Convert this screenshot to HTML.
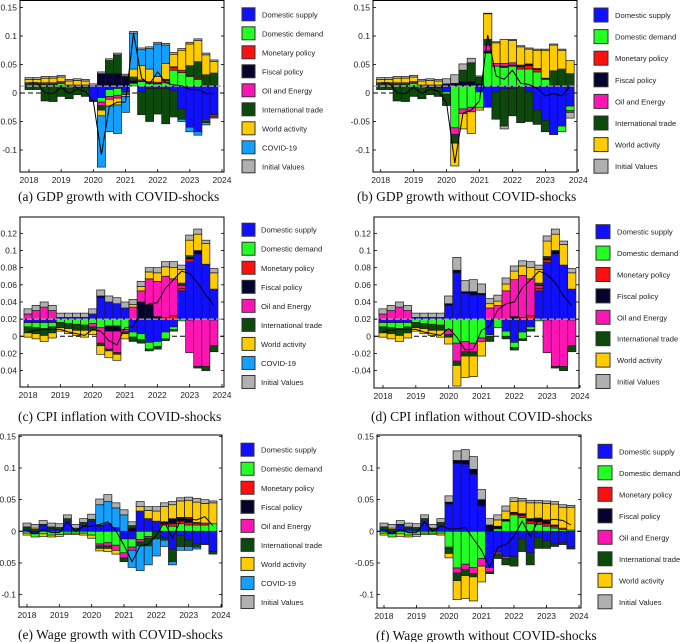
<!DOCTYPE html>
<html><head><meta charset="utf-8">
<style>
html,body{margin:0;padding:0;background:#fff;}
svg{display:block;font-family:"Liberation Sans",Arial,sans-serif;}
.cap{font-family:"Liberation Serif","Times New Roman",serif;font-size:13.5px;}
</style></head>
<body>
<svg id="fig" width="685" height="642" viewBox="0 0 685 642" xmlns="http://www.w3.org/2000/svg"></svg>
<script>
// Component order: DS, DD, MP, FP, OIL, IT, WA, COVID, INIT
const componentNames = ["Domestic supply","Domestic demand","Monetary policy","Fiscal policy","Oil and Energy","International trade","World activity","COVID-19","Initial Values"];
const componentColors = ["#1010ff","#22ff22","#ff1010","#03032e","#ff14b4","#0b4a0b","#ffcc00","#14a0ff","#b0b0b0"];
const xTickLabels = ["2018","2019","2020","2021","2022","2023","2024"];
const ticksGDP = [0.15,0.1,0.05,0,-0.05,-0.1];
const ticksCPI = [0.12,0.1,0.08,0.06,0.04,0.02,0,-0.02,-0.04];
const ticksWage = [0.15,0.1,0.05,0,-0.05,-0.1];

// ---- (a) GDP with COVID ----
const gdpA_DS = [0.001,0.001,0.001,0.001,0.001,-0.001,-0.002,-0.002,-0.025,-0.02,-0.006,-0.004,-0.01,0.001,-0.01,-0.004,-0.004,-0.004,-0.008,-0.04,-0.072,-0.08,-0.06,-0.05];
const gdpA_DD = [0.002,0.002,0.002,0.002,0.004,-0.002,-0.001,-0.001,-0.001,-0.008,-0.012,-0.012,-0.002,0.004,0.008,0.005,0.004,0.006,0.028,0.024,0.017,0.012,-0.002,-0.002];
const gdpA_MP = [0,0,0,0,0,0,0,0,0,0,0,0,0,0,0,0,0,0.004,0.005,0.004,0.002,0.002,-0.002,-0.002];
const gdpA_FP = [0.001,0.001,0.001,0.001,0.001,0.001,0.001,0.001,0.001,0.022,0.022,0.022,0.016,0.005,0.001,0.001,0.001,0.001,0.001,0,0,0,0,0];
const gdpA_OIL = [0.002,0.002,0.002,0.002,0.002,0.001,0.001,0.001,0,-0.006,-0.005,-0.005,-0.003,0.002,0.002,0.002,0.002,0.001,0,0,0,0,0,0.001];
const gdpA_IT = [-0.006,-0.006,-0.026,-0.027,-0.018,-0.019,-0.012,-0.015,0,-0.008,0.023,0.033,0.002,0.004,-0.04,-0.058,-0.045,-0.062,-0.046,-0.018,0.017,0.029,0.02,0.022];
const gdpA_WA = [0.006,0.006,0.008,0.008,0.008,0.007,0.008,0.007,0,-0.01,-0.012,-0.012,-0.003,0.014,0.025,0.022,0.01,0.028,0.022,0.035,0.038,0.037,0.035,0.02];
const gdpA_COVID = [0,0,0,0,0,0,0,0,-0.001,-0.09,-0.045,-0.05,-0.028,0.063,0.028,0.036,0.057,0.032,0,-0.004,-0.008,-0.006,-0.004,-0.002];
const gdpA_INIT = [0.003,0.003,0.003,0.003,0.003,0.003,0.003,0.003,0.003,0.003,0.003,0.003,0.003,0.003,0.003,0.003,0.003,0.003,0.003,0.003,0.003,0.003,0.003,0.003];

// ---- (b) GDP without COVID ----
const gdpB_DS = [0.001,0.001,0.001,0.001,0.001,-0.001,-0.002,-0.002,-0.01,0,0,0,-0.01,-0.037,-0.01,-0.005,-0.004,0,-0.01,-0.042,-0.06,-0.085,-0.07,-0.035];
const gdpB_DD = [0.002,0.002,0.002,0.002,0.004,-0.002,-0.001,-0.001,-0.004,-0.073,-0.04,-0.037,-0.028,0.058,0.035,0.033,0.035,0.03,0.03,0.025,0.012,0.002,-0.01,-0.008];
const gdpB_MP = [0,0,0,0,0,0,0,0,0,0,0,0,0,0,0,0,0,0.004,0.006,0.004,0,0,0,-0.003];
const gdpB_FP = [0.001,0.001,0.001,0.001,0.001,0.001,0.001,0.001,0.004,0.005,0.008,0.008,0.004,0.004,0,0.002,0.002,0.003,0.003,0.002,0.002,0,0,0];
const gdpB_OIL = [0.002,0.002,0.002,0.002,0.002,0.001,0.001,0.001,0,-0.012,-0.008,-0.008,0,0.01,0.005,0.005,0.004,0,0,0,0,0,0,0];
const gdpB_IT = [-0.006,-0.006,-0.026,-0.027,-0.018,-0.019,-0.012,-0.015,-0.02,-0.015,0.02,0.033,0.012,0.01,-0.048,-0.065,-0.048,-0.064,-0.052,-0.025,-0.02,0.025,0.03,0.022];
const gdpB_WA = [0.006,0.006,0.008,0.008,0.008,0.007,0.008,0.007,0,-0.04,-0.027,-0.038,-0.004,0.045,0.036,0.042,0.039,0.032,0.026,0.032,0.049,0.045,0.033,0.023];
const gdpB_COVID = [0,0,0,0,0,0,0,0,0,0,0,0,0,0,0,0,0,0,0,0,0,0,0,0];
const gdpB_INIT = [0.003,0.003,0.003,0.003,0.003,0.003,0.003,0.003,0.009,0.015,0.011,0.008,0.002,0.001,0.002,-0.005,0.002,0.002,0.002,0.002,0.002,0.002,0.002,-0.01];

// ---- (c) CPI with COVID ----
const cpiC_DS = [-0.004,-0.004,-0.004,-0.004,0.002,0.002,0.002,0.002,0.006,0.025,0.02,0.018,0.013,-0.015,-0.017,-0.027,-0.026,-0.015,-0.009,0.033,0.067,0.076,0.064,0.035];
const cpiC_DD = [-0.005,-0.006,-0.007,-0.005,-0.004,-0.005,-0.006,-0.007,-0.005,-0.01,-0.008,-0.008,-0.012,-0.006,-0.007,-0.008,-0.006,-0.008,-0.003,-0.002,-0.001,0,0,-0.001];
const cpiC_MP = [0,0,0,0,0,0,0,0,0,0,0,0,0,0,0,0,0,0.002,0.004,0.003,0.003,0,0,0];
const cpiC_FP = [0,0,0,0,0,0,0,0,0,0.002,-0.006,-0.006,0,0,0.02,0.017,0.003,0,0,0,0.002,0.004,0,0];
const cpiC_OIL = [0.006,0.01,0.014,0.01,0,0,0,0,-0.004,-0.018,-0.021,-0.025,-0.003,0.014,0.013,0.03,0.041,0.048,0.043,0.003,-0.038,-0.055,-0.055,-0.03];
const cpiC_IT = [-0.007,-0.007,-0.008,-0.007,-0.006,-0.006,-0.007,-0.006,-0.004,-0.003,-0.002,-0.002,-0.002,-0.005,-0.004,-0.002,-0.003,-0.002,-0.002,0.003,0.002,-0.002,-0.005,-0.007];
const cpiC_WA = [-0.005,-0.006,-0.007,-0.006,-0.004,-0.006,-0.006,-0.008,-0.005,-0.01,-0.008,-0.007,-0.006,0.003,0.005,0.008,0.01,0.011,0.013,0.016,0.018,0.019,0.024,0.019];
const cpiC_COVID = [0,0,0,0,0,0,0,0,0,0,0,0,0,0,0,0,0,0,0,0,0,0,0,0];
const cpiC_INIT = [0.006,0.006,0.006,0.006,0.005,0.005,0.005,0.005,0.006,0.007,0.007,0.007,0.007,0.006,0.006,0.005,0.006,0.006,0.007,0.005,0.006,0.006,0.004,0.005];

// ---- (d) CPI without COVID ----
const cpiD_DS = [-0.004,-0.004,-0.004,-0.004,0.002,0.002,0.002,0.002,0.016,0.054,0.03,0.028,0.028,-0.018,0,-0.014,-0.027,-0.015,-0.009,0.033,0.066,0.076,0.063,0.035];
const cpiD_DD = [-0.005,-0.006,-0.007,-0.005,-0.004,-0.005,-0.006,-0.007,-0.012,-0.028,-0.026,-0.028,-0.022,-0.002,-0.01,-0.006,-0.006,-0.008,-0.003,-0.002,-0.001,0,0,-0.001];
const cpiD_MP = [0,0,0,0,0,0,0,0,0,0,0,0,0,0,0,0,0,0.002,0.004,0.003,0.003,0,0,0];
const cpiD_FP = [0,0,0,0,0,0,0,0,0.002,0.003,0.002,0.004,0.002,0,0,0,0.003,0,0,0,0.002,0.004,0,0];
const cpiD_OIL = [0.006,0.01,0.014,0.01,0,0,0,0,-0.006,-0.021,-0.012,-0.01,-0.004,0.013,0.016,0.033,0.043,0.049,0.043,0.003,-0.038,-0.055,-0.055,-0.03];
const cpiD_IT = [-0.007,-0.007,-0.008,-0.007,-0.006,-0.006,-0.007,-0.006,-0.003,-0.005,-0.005,-0.005,0,-0.006,0,-0.003,-0.003,-0.002,-0.002,0.003,0.002,-0.002,-0.005,-0.007];
const cpiD_WA = [-0.005,-0.006,-0.007,-0.006,-0.004,-0.006,-0.006,-0.008,-0.008,-0.024,-0.025,-0.024,-0.017,0.005,0.005,0.008,0.01,0.011,0.013,0.016,0.018,0.019,0.024,0.019];
const cpiD_COVID = [0,0,0,0,0,0,0,0,0,0,0,0,0,0,0,0,0,0,0,0,0,0,0,0];
const cpiD_INIT = [0.006,0.006,0.006,0.006,0.005,0.005,0.005,0.005,0.009,0.015,0.013,0.014,0.011,0.006,0.007,0.007,0.006,0.006,0.007,0.005,0.006,0.006,0.004,0.005];

// ---- (e) Wage with COVID ----
const wageE_DS = [0.003,-0.004,0.009,0.004,0.003,0.016,0.002,0.01,0.016,0.008,0.012,0.006,-0.012,-0.012,0.032,0.02,0.016,-0.01,-0.028,-0.007,-0.014,-0.02,-0.02,-0.032];
const wageE_DD = [-0.003,-0.005,-0.004,-0.006,-0.005,-0.003,-0.003,-0.003,-0.006,-0.02,-0.018,-0.022,-0.022,-0.013,-0.013,-0.008,0,0.01,0.008,0.012,0.01,0.01,0.01,0.012];
const wageE_MP = [0,0,0,0,0,0,0,0,0,0,0,0,0,0,0,0,0,0.002,0.004,0.004,0.004,0.003,0.003,0];
const wageE_FP = [0,0,0,0,0,0,0,0,0,0.002,0,0,0,0.005,0,0,0,0.003,0.008,0.006,0.006,0.001,0,0];
const wageE_OIL = [0,0,0,0,0,0,0,0,0,-0.003,-0.005,-0.008,-0.008,-0.005,-0.004,-0.003,0,0,0,0,0.002,0,0,0];
const wageE_IT = [0.004,0.003,0.002,0.003,0.003,0.004,0.003,0.004,0.003,-0.004,-0.004,0,-0.006,0.004,-0.006,-0.012,-0.012,-0.004,-0.02,-0.017,-0.01,-0.005,-0.001,-0.004];
const wageE_WA = [-0.003,0.002,-0.004,-0.003,-0.003,-0.002,-0.002,-0.003,-0.005,-0.004,-0.005,-0.006,0,0,0.007,0.013,0.016,0.024,0.022,0.026,0.027,0.032,0.031,0.033];
const wageE_COVID = [0,0,0,0,0,0,0,0,0,0.032,0.035,0.031,0.026,-0.027,-0.039,-0.03,-0.027,-0.01,-0.005,-0.006,-0.006,-0.003,0,0];
const wageE_INIT = [0.006,0.006,0.006,0.006,0.006,0.006,0.006,0.006,0.008,0.009,0.011,0.008,0.008,0.006,0.008,0.006,0.007,0.006,0.005,0.005,0.005,0.006,0.006,0.003];

// ---- (f) Wage without COVID ----
const wageF_DS = [0.003,-0.004,0.009,0.004,0.003,0.016,0.002,0.01,0.043,0.107,0.106,0.09,0.04,-0.057,-0.033,-0.04,-0.04,-0.012,-0.034,-0.01,-0.015,-0.02,-0.018,-0.025];
const wageF_DD = [-0.003,-0.005,-0.004,-0.006,-0.005,-0.003,-0.003,-0.003,-0.025,-0.058,-0.052,-0.057,-0.043,0,0.004,0.016,0.026,0.022,0.012,0.011,0.008,0.005,0.003,0.002];
const wageF_MP = [0,0,0,0,0,0,0,0,0,0,0,0,0,0,0,0,0.002,0.003,0.004,0.004,0.004,0.003,0.002,0];
const wageF_FP = [0,0,0,0,0,0,0,0,0.003,0.005,0.006,0.008,0.01,0.01,0.004,0.003,0.002,0.003,0.004,0.006,0.004,0.002,0,0];
const wageF_OIL = [0,0,0,0,0,0,0,0,-0.002,-0.008,-0.008,-0.01,-0.012,-0.007,-0.003,-0.003,0,0,0,0,0.002,0,0,0];
const wageF_IT = [0.004,0.003,0.002,0.003,0.003,0.004,0.003,0.004,-0.008,-0.012,-0.01,-0.005,0,-0.003,-0.007,-0.01,-0.015,-0.02,-0.019,-0.017,-0.012,-0.004,-0.003,-0.003];
const wageF_WA = [-0.003,0.002,-0.004,-0.003,-0.003,-0.002,-0.002,-0.003,-0.007,-0.03,-0.036,-0.038,-0.025,0,0.01,0.013,0.017,0.02,0.025,0.024,0.026,0.033,0.033,0.036];
const wageF_COVID = [0,0,0,0,0,0,0,0,0,0,0,0,0,0,0,0,0,0,0,0,0,0,0,0];
const wageF_INIT = [0.006,0.006,0.006,0.006,0.006,0.006,0.006,0.006,0.01,0.015,0.017,0.02,0.016,0.01,0.008,0.008,0.006,0.004,0.004,0.004,0.004,0.004,0.004,0.003];

const baselines = [0.012,0.012,0.02,0.02,0,0];
const captions = ["(a) GDP growth with COVID-shocks","(b) GDP growth without COVID-shocks","(c) CPI inflation with COVID-shocks","(d) CPI inflation without COVID-shocks","(e) Wage growth with COVID-shocks","(f) Wage growth without COVID-shocks"];

const seriesSets = [
 [gdpA_DS,gdpA_DD,gdpA_MP,gdpA_FP,gdpA_OIL,gdpA_IT,gdpA_WA,gdpA_COVID,gdpA_INIT],
 [gdpB_DS,gdpB_DD,gdpB_MP,gdpB_FP,gdpB_OIL,gdpB_IT,gdpB_WA,gdpB_COVID,gdpB_INIT],
 [cpiC_DS,cpiC_DD,cpiC_MP,cpiC_FP,cpiC_OIL,cpiC_IT,cpiC_WA,cpiC_COVID,cpiC_INIT],
 [cpiD_DS,cpiD_DD,cpiD_MP,cpiD_FP,cpiD_OIL,cpiD_IT,cpiD_WA,cpiD_COVID,cpiD_INIT],
 [wageE_DS,wageE_DD,wageE_MP,wageE_FP,wageE_OIL,wageE_IT,wageE_WA,wageE_COVID,wageE_INIT],
 [wageF_DS,wageF_DD,wageF_MP,wageF_FP,wageF_OIL,wageF_IT,wageF_WA,wageF_COVID,wageF_INIT]
];
const tickSets = [ticksGDP,ticksGDP,ticksCPI,ticksCPI,ticksWage,ticksWage];

// layout (geometry only)
const layouts = [
 {l:20,r:224,t:0.5,b:172,y0:93,k:570,x18:29,x24:222,lx:242,ly:14.3,ldy:19,lw:13,tx:262,cx:18,cy:201,covid:true},
 {l:373,r:577,t:0.5,b:172,y0:93,k:570,x18:380.7,x24:578.3,lx:594,ly:15,ldy:21.6,lw:14,tx:615,cx:357,cy:201,covid:false},
 {l:20,r:224,t:217,b:387,y0:336.3,k:858,x18:28,x24:222,lx:242,ly:229.7,ldy:19.04,lw:13,tx:261,cx:18,cy:421,covid:true},
 {l:374,r:579,t:217,b:388,y0:336.3,k:858,x18:383,x24:580,lx:596,ly:231.7,ldy:21.4,lw:14,tx:617,cx:371,cy:421,covid:false},
 {l:19,r:222,t:435,b:607,y0:531.3,k:633,x18:27,x24:221,lx:241,ly:449.7,ldy:19.04,lw:13,tx:261,cx:18,cy:639,covid:true},
 {l:377,r:581,t:435,b:608,y0:531.3,k:633,x18:384,x24:579,lx:598,ly:451.3,ldy:21.5,lw:14,tx:619,cx:376,cy:640,covid:false}
];
const panelKeys = ["gdp-with-covid","gdp-without-covid","cpi-with-covid","cpi-without-covid","wage-with-covid","wage-without-covid"];

const NS = "http://www.w3.org/2000/svg";
const fig = document.getElementById("fig");
function mk(tag, attrs, parent){ const e=document.createElementNS(NS,tag); for(const a in attrs) e.setAttribute(a,attrs[a]); (parent||fig).appendChild(e); return e; }

layouts.forEach((L,p)=>{
  const g = mk("g",{});
  
  
  const Y = v => L.y0 - v*L.k;
  const pxYear = (L.x24-L.x18)/6;
  const X = t => L.x18 + (t-2018)*pxYear;
  const base = baselines[p];
  const series = seriesSets[p];
  const n = series[0].length;
  const z = mk("line",{x1:L.l,x2:L.r,y1:Y(0),y2:Y(0),stroke:"#000","stroke-width":1,"stroke-dasharray":"5,3"},g);
  
  
  const bw = 0.25*pxYear;
  const linePts = [];
  for(let q=0;q<n;q++){
    const t = 2018 + q*0.25;
    let up = base, dn = base, total = base;
    series.forEach((s,c)=>{
      const v = s[q];
      if(!v) return;
      if(c<8) total += v;
      let y1,y2;
      if(v>0){ y1=up; y2=up+v; up=y2; } else { y1=dn; y2=dn+v; dn=y2; }
      const r = mk("rect",{x:X(t)-bw/2,y:Math.min(Y(y1),Y(y2)),width:bw,height:Math.abs(Y(y2)-Y(y1)),fill:componentColors[c],stroke:"#1a1a1a","stroke-width":0.7},g);
      
      
    });
    linePts.push(X(t).toFixed(1)+","+Y(total).toFixed(1));
  }
  if(base!==0){
    const bl = mk("line",{x1:L.l,x2:L.r,y1:Y(base),y2:Y(base),stroke:"#aaa","stroke-width":1.2,"stroke-dasharray":"5,2"},g);
    
    
  }
  const pl = mk("polyline",{points:linePts.join(" "),fill:"none",stroke:"#000","stroke-width":1},g);
  
  
  const fr = mk("rect",{x:L.l,y:L.t,width:L.r-L.l,height:L.b-L.t,fill:"none",stroke:"#000","stroke-width":1},g);
  
  
  tickSets[p].forEach(v=>{
    const y=Y(v);
    mk("line",{x1:L.l,x2:L.l+3,y1:y,y2:y,stroke:"#000","stroke-width":0.8},g);
    mk("line",{x1:L.r,x2:L.r-3,y1:y,y2:y,stroke:"#000","stroke-width":0.8},g);
    const tx = mk("text",{x:L.l-3,y:y+3,"font-size":"8.5","text-anchor":"end",fill:"#222"},g);
    tx.textContent = String(v);
    
    
  });
  xTickLabels.forEach((lab,i)=>{
    const x=X(2018+i);
    mk("line",{x1:x,x2:x,y1:L.b,y2:L.b-3,stroke:"#000","stroke-width":0.8},g);
    const tx = mk("text",{x:x,y:L.b+11,"font-size":"8.5","text-anchor":"middle",fill:"#222"},g);
    tx.textContent = lab;
    
    
  });
  let idx=0;
  componentNames.forEach((nm,c)=>{
    if(c===7 && !L.covid) return;
    const cy = L.ly + idx*L.ldy;
    const lg = mk("g",{},g);
    
    
    mk("rect",{x:L.lx,y:cy-L.lw/2,width:L.lw,height:L.lw,fill:componentColors[c],stroke:"#333","stroke-width":1},lg);
    const tx = mk("text",{x:L.tx,y:cy+3,"font-size":"7.6",fill:"#222"},lg);
    tx.textContent = nm;
    idx++;
  });
  const cp = mk("text",{x:L.cx,y:L.cy,"class":"cap",fill:"#111"},g);
  cp.textContent = captions[p];
  
  
});
</script>
</body></html>
